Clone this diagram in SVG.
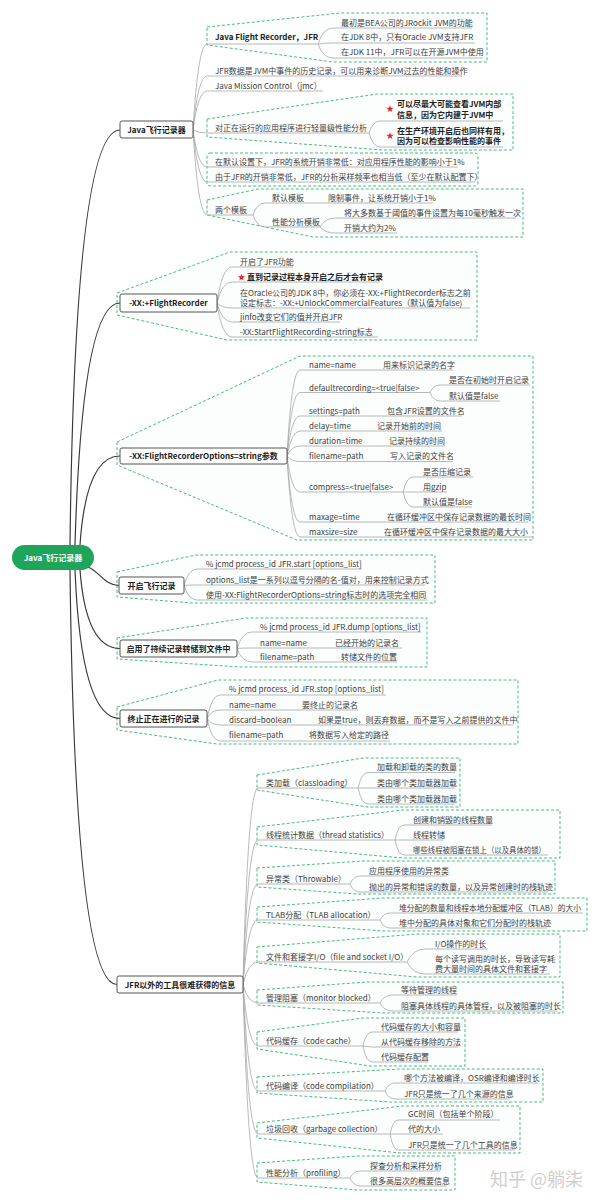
<svg xmlns="http://www.w3.org/2000/svg" width="600" height="1203" viewBox="0 0 600 1203">
<defs>
<style>
.t{font-family:"Noto Sans CJK SC","Microsoft YaHei",sans-serif;font-size:8px;fill:#3c3c3c}
.b{font-weight:bold;fill:#222}
.m{text-anchor:middle}
.w{fill:#fff}
.ul{stroke:#a8a8a8;stroke-width:0.8;fill:none}
.c{stroke:#a8a8a8;stroke-width:0.8;fill:none}
.rc{stroke:#3a3a3a;stroke-width:1.2;fill:none}
.bd{stroke:#35b372;stroke-width:0.9;stroke-dasharray:3 2;fill:#fbfefc;stroke-linejoin:round}
.box{fill:#fff;stroke:#555;stroke-width:1}
.star{fill:#e02a2a}
.wm{font-family:"Noto Sans CJK SC",sans-serif;font-size:18px;fill:#cfcfcf}
</style>
<path id="star" d="M0,-3.8 L0.94,-1.29 L3.61,-1.17 L1.52,0.49 L2.23,3.07 L0,1.6 L-2.23,3.07 L-1.52,0.49 L-3.61,-1.17 L-0.94,-1.29 Z"/>
</defs>
<rect width="600" height="1203" fill="#fff"/>

<g id="boundaries">
<path class="bd" d="M207,27 L340,13 L487,13 L487,62 L333,62 L207,45 Z"/>
<path class="bd" d="M207,119 L377,94 L513,94 L513,150 L383,150 L207,137 Z"/>
<rect class="bd" x="207" y="153" width="271" height="33" rx="3"/>
<path class="bd" d="M207,200 L258,189 L523,189 L523,237 L313,237 L207,215 Z"/>
<path class="bd" d="M117,293 L230,252 L477,252 L477,340 L227,340 L117,315 Z"/>
<path class="bd" d="M117,442 L300,356 L533,356 L533,540 L297,540 L117,465 Z"/>
<path class="bd" d="M117,572 L196,555 L435,555 L435,603 L192,603 L117,597 Z"/>
<path class="bd" d="M117,638 L246,618 L427,618 L427,667 L240,667 L117,659 Z"/>
<path class="bd" d="M117,707 L218,680 L518,680 L518,744 L217,744 L117,730 Z"/>
<path class="bd" d="M257,775 L363,758 L460,758 L460,807 L367,807 L257,790 Z"/>
<path class="bd" d="M257,827 L403,810 L560,810 L560,858 L403,858 L257,845 Z"/>
<path class="bd" d="M257,868 L363,861 L555,861 L555,894 L357,894 L257,887 Z"/>
<path class="bd" d="M257,907 L383,898 L587,898 L587,931 L383,931 L257,922 Z"/>
<path class="bd" d="M257,947 L417,934 L560,934 L560,977 L417,977 L257,963 Z"/>
<path class="bd" d="M257,990 L367,982 L563,982 L563,1013 L383,1013 L257,1005 Z"/>
<path class="bd" d="M257,1032 L363,1018 L465,1018 L465,1066 L370,1066 L257,1049 Z"/>
<path class="bd" d="M257,1077 L400,1069 L543,1069 L543,1102 L390,1102 L257,1093 Z"/>
<path class="bd" d="M257,1123 L403,1106 L520,1106 L520,1153 L400,1153 L257,1138 Z"/>
<path class="bd" d="M257,1163 L357,1156 L455,1156 L455,1190 L357,1190 L257,1182 Z"/>
</g>

<g id="connectors">
<path class="rc" d="M70,545 Q75,130 120,130"/>
<path class="rc" d="M75,545 Q82,303 120,303"/>
<path class="rc" d="M80,545 Q86,456 120,456"/>
<path class="rc" d="M88,567 C100,572 105,585.5 119,585.5"/>
<path class="rc" d="M80,570 Q86,648.5 120,648.5"/>
<path class="rc" d="M75,570 Q81,718.5 120,718.5"/>
<path class="rc" d="M70,570 Q75,984.5 117,984.5"/>

<path class="c" d="M193,130 Q198,44 207,44 M193,130 Q198,76 207,76 M193,130 Q198,91 207,91 M193,130 Q198,133 207,133 M193,130 Q198,167 207,167 M193,130 Q198,182 207,182 M193,130 Q198,215 207,215"/>
<path class="c" d="M318,44 Q323,28 333,28 M318,44 Q323,43 333,43 M318,44 Q323,58 333,58"/>
<path class="c" d="M369,133 Q373,121 380,121 M369,133 Q373,147 380,147"/>
<path class="c" d="M253,215 Q257,203 265,203 M253,215 Q257,227 265,227"/>
<path class="c" d="M320,227 Q325,218 335,218 M320,227 Q325,233 335,233"/>

<path class="c" d="M217,303 Q222,267 232,267 M217,303 Q222,282 232,282 M217,303 Q222,308 232,308 M217,303 Q222,322 232,322 M217,303 Q222,337 232,337"/>

<path class="c" d="M287,456 Q291.5,370 300,370 M287,456 Q291.5,392.5 300,392.5 M287,456 Q291.5,416 300,416 M287,456 Q291.5,431 300,431 M287,456 Q291.5,446 300,446 M287,456 Q291.5,461.5 300,461.5 M287,456 Q291.5,492 300,492 M287,456 Q291.5,522 300,522 M287,456 Q291.5,537 300,537"/>
<path class="c" d="M430,392.5 Q433.5,385 440,385 M430,392.5 Q433.5,401 440,401"/>
<path class="c" d="M403,492 Q406.5,477 413,477 M403,492 L413,492 M403,492 Q406.5,507 413,507"/>

<path class="c" d="M184,585.5 Q188.5,569 197,569 M184,585.5 Q188.5,585 197,585 M184,585.5 Q188.5,600 197,600"/>
<path class="c" d="M237,648.5 Q242,632 252,632 M237,648.5 Q242,648 252,648 M237,648.5 Q242,662 252,662"/>
<path class="c" d="M207,718.5 Q211.5,695 220,695 M207,718.5 Q211.5,710 220,710 M207,718.5 Q211.5,725 220,725 M207,718.5 Q211.5,741 220,741"/>

<path class="c" d="M243,984.5 Q248,788 258,788 M243,984.5 Q248,840 258,840 M243,984.5 Q248,884 258,884 M243,984.5 Q248,920 258,920 M243,984.5 Q248,962 258,962 M243,984.5 Q248,1003 258,1003 M243,984.5 Q248,1046 258,1046 M243,984.5 Q248,1091 258,1091 M243,984.5 Q248,1134 258,1134 M243,984.5 Q248,1178 258,1178"/>
<path class="c" d="M358,788 Q361.5,772.5 368,772.5 M358,788 L368,788 M358,788 Q361.5,804 368,804"/>
<path class="c" d="M395,840 Q398,825 404,825 M395,840 L404,840 M395,840 Q398,855 404,855"/>
<path class="c" d="M350,884 Q353.5,876 360,876 M350,884 Q353.5,892 360,892"/>
<path class="c" d="M380,920 Q383.5,913 390,913 M380,920 Q383.5,928 390,928"/>
<path class="c" d="M407,962 Q413,949 425,949 M407,962 Q413,974 425,974"/>
<path class="c" d="M380,1003 Q384,995 392,995 M380,1003 Q384,1011 392,1011"/>
<path class="c" d="M363,1046 Q366,1032 372,1032 M363,1046 L372,1047 M363,1046 Q366,1062 372,1062"/>
<path class="c" d="M385,1091 Q388.5,1083 395,1083 M385,1091 Q388.5,1099 395,1099"/>
<path class="c" d="M390,1134 Q393,1120 398,1120 M390,1134 L398,1134 M390,1134 Q393,1150 398,1150"/>
<path class="c" d="M350,1178 Q353.5,1171 360,1171 M350,1178 Q353.5,1186 360,1186"/>
</g>

<g id="root">
<rect x="12" y="545" width="82" height="25" rx="12.5" fill="#1fa55a"/>
<text class="t b m w" x="53" y="560.5">Java飞行记录器</text>
</g>

<g id="b1">
<rect class="box" x="120" y="121" width="73" height="17" rx="2"/>
<text class="t b m" x="156.5" y="132.8">Java飞行记录器</text>
</g>
<g id="b1-jfr"><line class="ul" x1="207" y1="44" x2="318" y2="44"/><text class="t b" x="215" y="40">Java Flight Recorder，JFR</text></g>
<g id="b1-jfr-1"><line class="ul" x1="333" y1="28" x2="472" y2="28"/><text class="t" x="341" y="26">最初是BEA公司的JRockit JVM的功能</text></g>
<g id="b1-jfr-2"><line class="ul" x1="333" y1="43" x2="475" y2="43"/><text class="t" x="341" y="40">在JDK 8中，只有Oracle JVM支持JFR</text></g>
<g id="b1-jfr-3"><line class="ul" x1="333" y1="58" x2="483" y2="58"/><text class="t" x="341" y="55">在JDK 11中，JFR可以在开源JVM中使用</text></g>
<g id="b1-data"><line class="ul" x1="207" y1="76" x2="462" y2="76"/><text class="t" x="215" y="74">JFR数据是JVM中事件的历史记录，可以用来诊断JVM过去的性能和操作</text></g>
<g id="b1-jmc"><line class="ul" x1="207" y1="91" x2="323" y2="91"/><text class="t" x="215" y="89">Java Mission Control（jmc）</text></g>
<g id="b1-light"><line class="ul" x1="207" y1="133" x2="369" y2="133"/><text class="t" x="215" y="131">对正在运行的应用程序进行轻量级性能分析</text></g>
<g id="b1-light-1"><line class="ul" x1="380" y1="121" x2="503" y2="121"/><use href="#star" class="star" x="390" y="109"/><text class="t b" x="397" y="107">可以尽最大可能查看JVM内部</text><text class="t b" x="397" y="117.5">信息，因为它内建于JVM中</text></g>
<g id="b1-light-2"><line class="ul" x1="380" y1="147" x2="503" y2="147"/><use href="#star" class="star" x="390" y="136"/><text class="t b" x="397" y="134">在生产环境开启后也同样有用，</text><text class="t b" x="397" y="144">因为可以检查影响性能的事件</text></g>
<g id="b1-low1"><line class="ul" x1="207" y1="167" x2="458" y2="167"/><text class="t" x="215" y="165">在默认设置下，JFR的系统开销非常低：对应用程序性能的影响小于1%</text></g>
<g id="b1-low2"><line class="ul" x1="207" y1="182" x2="475" y2="182"/><text class="t" x="215" y="180">由于JFR的开销非常低，JFR的分析采样频率也相当低（至少在默认配置下）</text></g>
<g id="b1-tpl"><line class="ul" x1="207" y1="215" x2="253" y2="215"/><text class="t" x="215" y="213">两个模板</text></g>
<g id="b1-tpl-def"><line class="ul" x1="265" y1="203" x2="308" y2="203"/><text class="t" x="272" y="201">默认模板</text></g>
<g id="b1-tpl-def-1"><line class="ul" x1="308" y1="203" x2="433" y2="203"/><text class="t" x="328" y="201">限制事件，让系统开销小于1%</text></g>
<g id="b1-tpl-prof"><line class="ul" x1="265" y1="227" x2="320" y2="227"/><text class="t" x="272" y="225">性能分析模板</text></g>
<g id="b1-tpl-prof-1"><line class="ul" x1="335" y1="218" x2="516" y2="218"/><text class="t" x="344" y="216">将大多数基于阈值的事件设置为每10毫秒触发一次</text></g>
<g id="b1-tpl-prof-2"><line class="ul" x1="335" y1="233" x2="397" y2="233"/><text class="t" x="344" y="231">开销大约为2%</text></g>

<g id="b2">
<rect class="box" x="120" y="294" width="97" height="18" rx="2"/>
<text class="t b m" x="168.5" y="306">-XX:+FlightRecorder</text>
</g>
<g id="b2-1"><line class="ul" x1="232" y1="267" x2="293" y2="267"/><text class="t" x="240" y="265">开启了JFR功能</text></g>
<g id="b2-2"><line class="ul" x1="232" y1="282" x2="380" y2="282"/><use href="#star" class="star" x="241.5" y="277.5"/><text class="t b" x="247" y="280">直到记录过程本身开启之后才会有记录</text></g>
<g id="b2-3"><line class="ul" x1="232" y1="308" x2="470" y2="308"/><text class="t" x="240" y="296">在Oracle公司的JDK 8中，你必须在-XX:+FlightRecorder标志之前</text><text class="t" x="240" y="305.5">设定标志：-XX:+UnlockCommercialFeatures（默认值为false)</text></g>
<g id="b2-4"><line class="ul" x1="232" y1="322" x2="340" y2="322"/><text class="t" x="240" y="320">jinfo改变它们的值并开启JFR</text></g>
<g id="b2-5"><line class="ul" x1="232" y1="337" x2="378" y2="337"/><text class="t" x="240" y="335">-XX:StartFlightRecording=string标志</text></g>

<g id="b3">
<rect class="box" x="120" y="448" width="167" height="16" rx="2"/>
<text class="t b m" x="203.5" y="458.8">-XX:FlightRecorderOptions=string参数</text>
</g>
<g id="b3-name"><line class="ul" x1="300" y1="370" x2="376" y2="370"/><text class="t" x="309" y="368">name=name</text></g>
<g id="b3-name-1"><line class="ul" x1="376" y1="370" x2="453" y2="370"/><text class="t" x="383" y="368">用来标识记录的名字</text></g>
<g id="b3-def"><line class="ul" x1="300" y1="392.5" x2="430" y2="392.5"/><text class="t" x="309" y="391">defaultrecording=&lt;true|false&gt;</text></g>
<g id="b3-def-1"><line class="ul" x1="440" y1="385" x2="530" y2="385"/><text class="t" x="449" y="383">是否在初始时开启记录</text></g>
<g id="b3-def-2"><line class="ul" x1="440" y1="401" x2="500" y2="401"/><text class="t" x="449" y="399">默认值是false</text></g>
<g id="b3-set"><line class="ul" x1="300" y1="416" x2="380" y2="416"/><text class="t" x="309" y="414">settings=path</text></g>
<g id="b3-set-1"><line class="ul" x1="380" y1="416" x2="462" y2="416"/><text class="t" x="387" y="414">包含JFR设置的文件名</text></g>
<g id="b3-delay"><line class="ul" x1="300" y1="431" x2="370" y2="431"/><text class="t" x="309" y="429">delay=time</text></g>
<g id="b3-delay-1"><line class="ul" x1="370" y1="431" x2="442" y2="431"/><text class="t" x="377" y="429">记录开始前的时间</text></g>
<g id="b3-dur"><line class="ul" x1="300" y1="446" x2="382" y2="446"/><text class="t" x="309" y="444">duration=time</text></g>
<g id="b3-dur-1"><line class="ul" x1="382" y1="446" x2="445" y2="446"/><text class="t" x="389" y="444">记录持续的时间</text></g>
<g id="b3-file"><line class="ul" x1="300" y1="461.5" x2="383" y2="461.5"/><text class="t" x="309" y="459">filename=path</text></g>
<g id="b3-file-1"><line class="ul" x1="383" y1="461.5" x2="453" y2="461.5"/><text class="t" x="390" y="459">写入记录的文件名</text></g>
<g id="b3-comp"><line class="ul" x1="300" y1="492" x2="403" y2="492"/><text class="t" x="309" y="490">compress=&lt;true|false&gt;</text></g>
<g id="b3-comp-1"><line class="ul" x1="413" y1="477" x2="473" y2="477"/><text class="t" x="423" y="475">是否压缩记录</text></g>
<g id="b3-comp-2"><line class="ul" x1="413" y1="492" x2="447" y2="492"/><text class="t" x="423" y="490">用gzip</text></g>
<g id="b3-comp-3"><line class="ul" x1="413" y1="507" x2="472" y2="507"/><text class="t" x="423" y="505">默认值是false</text></g>
<g id="b3-age"><line class="ul" x1="300" y1="522" x2="380" y2="522"/><text class="t" x="309" y="520">maxage=time</text></g>
<g id="b3-age-1"><line class="ul" x1="380" y1="522" x2="528" y2="522"/><text class="t" x="387" y="520">在循环缓冲区中保存记录数据的最长时间</text></g>
<g id="b3-size"><line class="ul" x1="300" y1="537" x2="377" y2="537"/><text class="t" x="309" y="535">maxsize=size</text></g>
<g id="b3-size-1"><line class="ul" x1="377" y1="537" x2="533" y2="537"/><text class="t" x="384" y="535">在循环缓冲区中保存记录数据的最大大小</text></g>

<g id="b4">
<rect class="box" x="119" y="577" width="65" height="17" rx="2"/>
<text class="t b m" x="151.5" y="588.5">开启飞行记录</text>
</g>
<g id="b4-1"><line class="ul" x1="197" y1="569" x2="362" y2="569"/><text class="t" x="206" y="567">% jcmd process_id JFR.start [options_list]</text></g>
<g id="b4-2"><line class="ul" x1="197" y1="585" x2="425" y2="585"/><text class="t" x="206" y="583">options_list是一系列以逗号分隔的名-值对，用来控制记录方式</text></g>
<g id="b4-3"><line class="ul" x1="197" y1="600" x2="427" y2="600"/><text class="t" x="206" y="598">使用-XX:FlightRecorderOptions=string标志时的选项完全相同</text></g>

<g id="b5">
<rect class="box" x="120" y="640" width="117" height="17" rx="2"/>
<text class="t b m" x="178.5" y="651.8">启用了持续记录转储到文件中</text>
</g>
<g id="b5-1"><line class="ul" x1="252" y1="632" x2="421" y2="632"/><text class="t" x="260" y="630">% jcmd process_id JFR.dump [options_list]</text></g>
<g id="b5-2"><line class="ul" x1="252" y1="648" x2="328" y2="648"/><text class="t" x="260" y="646">name=name</text></g>
<g id="b5-2-1"><line class="ul" x1="328" y1="648" x2="402" y2="648"/><text class="t" x="335" y="646">已经开始的记录名</text></g>
<g id="b5-3"><line class="ul" x1="252" y1="662" x2="334" y2="662"/><text class="t" x="260" y="660">filename=path</text></g>
<g id="b5-3-1"><line class="ul" x1="334" y1="662" x2="397" y2="662"/><text class="t" x="341" y="660">转储文件的位置</text></g>

<g id="b6">
<rect class="box" x="120" y="710" width="87" height="17" rx="2"/>
<text class="t b m" x="163.5" y="721.8">终止正在进行的记录</text>
</g>
<g id="b6-1"><line class="ul" x1="220" y1="695" x2="386" y2="695"/><text class="t" x="229" y="692">% jcmd process_id JFR.stop [options_list]</text></g>
<g id="b6-2"><line class="ul" x1="220" y1="710" x2="295" y2="710"/><text class="t" x="229" y="708">name=name</text></g>
<g id="b6-2-1"><line class="ul" x1="295" y1="710" x2="358" y2="710"/><text class="t" x="302" y="708">要终止的记录名</text></g>
<g id="b6-3"><line class="ul" x1="220" y1="725" x2="311" y2="725"/><text class="t" x="229" y="723">discard=boolean</text></g>
<g id="b6-3-1"><line class="ul" x1="311" y1="725" x2="513" y2="725"/><text class="t" x="318" y="723">如果是true，则丢弃数据，而不是写入之前提供的文件中</text></g>
<g id="b6-4"><line class="ul" x1="220" y1="741" x2="302" y2="741"/><text class="t" x="229" y="738">filename=path</text></g>
<g id="b6-4-1"><line class="ul" x1="302" y1="741" x2="390" y2="741"/><text class="t" x="309" y="738">将数据写入给定的路径</text></g>

<g id="b7">
<rect class="box" x="117" y="976" width="126" height="17" rx="2"/>
<text class="t b m" x="180" y="987.8">JFR以外的工具很难获得的信息</text>
</g>
<g id="b7-cl"><line class="ul" x1="258" y1="788" x2="358" y2="788"/><text class="t" x="266" y="786">类加载（classloading）</text></g>
<g id="b7-cl-1"><line class="ul" x1="368" y1="772.5" x2="455" y2="772.5"/><text class="t" x="377" y="770">加载和卸载的类的数量</text></g>
<g id="b7-cl-2"><line class="ul" x1="368" y1="788" x2="455" y2="788"/><text class="t" x="377" y="786">类由哪个类加载器加载</text></g>
<g id="b7-cl-3"><line class="ul" x1="368" y1="804" x2="455" y2="804"/><text class="t" x="377" y="802">类由哪个类加载器加载</text></g>
<g id="b7-th"><line class="ul" x1="258" y1="840" x2="395" y2="840"/><text class="t" x="266" y="838">线程统计数据（thread statistics）</text></g>
<g id="b7-th-1"><line class="ul" x1="404" y1="825" x2="492" y2="825"/><text class="t" x="413" y="823">创建和销毁的线程数量</text></g>
<g id="b7-th-2"><line class="ul" x1="404" y1="840" x2="443" y2="840"/><text class="t" x="413" y="838">线程转储</text></g>
<g id="b7-th-3"><line class="ul" x1="404" y1="855" x2="548" y2="855"/><text class="t" x="413" y="853" textLength="133" lengthAdjust="spacingAndGlyphs">哪些线程被阻塞在锁上（以及具体的锁）</text></g>
<g id="b7-ex"><line class="ul" x1="258" y1="884" x2="350" y2="884"/><text class="t" x="266" y="882">异常类（Throwable）</text></g>
<g id="b7-ex-1"><line class="ul" x1="360" y1="876" x2="447" y2="876"/><text class="t" x="369" y="874">应用程序使用的异常类</text></g>
<g id="b7-ex-2"><line class="ul" x1="360" y1="892" x2="548" y2="892"/><text class="t" x="369" y="890">抛出的异常和错误的数量，以及异常创建时的栈轨迹</text></g>
<g id="b7-tlab"><line class="ul" x1="258" y1="920" x2="380" y2="920"/><text class="t" x="266" y="918">TLAB分配（TLAB allocation）</text></g>
<g id="b7-tlab-1"><line class="ul" x1="390" y1="913" x2="583" y2="913"/><text class="t" x="399" y="911" textLength="182" lengthAdjust="spacingAndGlyphs">堆分配的数量和线程本地分配缓冲区（TLAB）的大小</text></g>
<g id="b7-tlab-2"><line class="ul" x1="390" y1="928" x2="547" y2="928"/><text class="t" x="399" y="926">堆中分配的具体对象和它们分配时的栈轨迹</text></g>
<g id="b7-io"><line class="ul" x1="258" y1="962" x2="407" y2="962"/><text class="t" x="266" y="960">文件和套接字I/O（file and socket I/O）</text></g>
<g id="b7-io-1"><line class="ul" x1="425" y1="949" x2="488" y2="949"/><text class="t" x="435" y="947">I/O操作的时长</text></g>
<g id="b7-io-2"><line class="ul" x1="425" y1="974" x2="550" y2="974"/><text class="t" x="435" y="962">每个读写调用的时长，导致读写耗</text><text class="t" x="435" y="972">费大量时间的具体文件和套接字</text></g>
<g id="b7-mon"><line class="ul" x1="258" y1="1003" x2="380" y2="1003"/><text class="t" x="266" y="1001">管理阻塞（monitor blocked）</text></g>
<g id="b7-mon-1"><line class="ul" x1="392" y1="995" x2="457" y2="995"/><text class="t" x="401" y="993">等待管理的线程</text></g>
<g id="b7-mon-2"><line class="ul" x1="392" y1="1011" x2="557" y2="1011"/><text class="t" x="401" y="1009">阻塞具体线程的具体管程，以及被阻塞的时长</text></g>
<g id="b7-cc"><line class="ul" x1="258" y1="1046" x2="363" y2="1046"/><text class="t" x="266" y="1044">代码缓存（code cache）</text></g>
<g id="b7-cc-1"><line class="ul" x1="372" y1="1032" x2="458" y2="1032"/><text class="t" x="381" y="1030">代码缓存的大小和容量</text></g>
<g id="b7-cc-2"><line class="ul" x1="372" y1="1047" x2="458" y2="1047"/><text class="t" x="381" y="1045">从代码缓存移除的方法</text></g>
<g id="b7-cc-3"><line class="ul" x1="372" y1="1062" x2="428" y2="1062"/><text class="t" x="381" y="1060">代码缓存配置</text></g>
<g id="b7-comp"><line class="ul" x1="258" y1="1091" x2="385" y2="1091"/><text class="t" x="266" y="1089">代码编译（code compilation）</text></g>
<g id="b7-comp-1"><line class="ul" x1="395" y1="1083" x2="538" y2="1083"/><text class="t" x="404" y="1081">哪个方法被编译，OSR编译和编译时长</text></g>
<g id="b7-comp-2"><line class="ul" x1="395" y1="1099" x2="510" y2="1099"/><text class="t" x="404" y="1097">JFR只是统一了几个来源的信息</text></g>
<g id="b7-gc"><line class="ul" x1="258" y1="1134" x2="390" y2="1134"/><text class="t" x="266" y="1132">垃圾回收（garbage collection）</text></g>
<g id="b7-gc-1"><line class="ul" x1="398" y1="1120" x2="500" y2="1120"/><text class="t" x="408" y="1117">GC时间（包括单个阶段）</text></g>
<g id="b7-gc-2"><line class="ul" x1="398" y1="1134" x2="443" y2="1134"/><text class="t" x="408" y="1132">代的大小</text></g>
<g id="b7-gc-3"><line class="ul" x1="398" y1="1150" x2="515" y2="1150"/><text class="t" x="408" y="1148">JFR只是统一了几个工具的信息</text></g>
<g id="b7-prof"><line class="ul" x1="258" y1="1178" x2="350" y2="1178"/><text class="t" x="266" y="1176">性能分析（profiling）</text></g>
<g id="b7-prof-1"><line class="ul" x1="360" y1="1171" x2="440" y2="1171"/><text class="t" x="370" y="1169">探查分析和采样分析</text></g>
<g id="b7-prof-2"><line class="ul" x1="360" y1="1186" x2="447" y2="1186"/><text class="t" x="370" y="1184">很多高层次的概要信息</text></g>

<text class="wm" x="490" y="1186">知乎 @躺柒</text>
</svg>
